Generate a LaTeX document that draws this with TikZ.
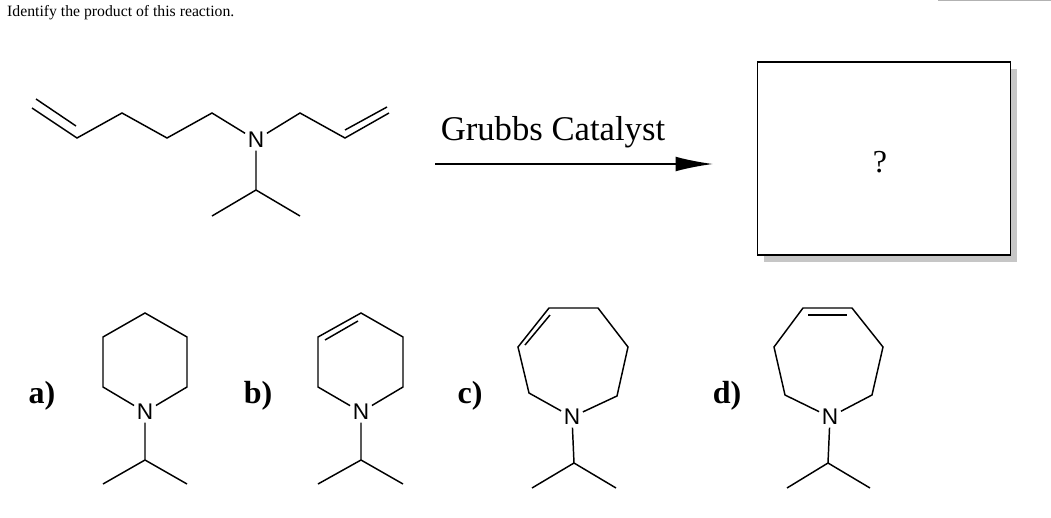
\documentclass[tikz,border=0pt]{standalone}
\usepackage{fontspec}
\setmainfont{Liberation Serif}
\newfontfamily\nfont{Liberation Sans}
\usetikzlibrary{arrows.meta}
\begin{document}
\begin{tikzpicture}[x=0.75pt,y=-0.75pt,line width=1.1pt,
  atom/.style={font=\nfont\fontsize{17}{17}\selectfont,inner sep=1.5pt},
  lbl/.style={font=\bfseries\fontsize{24}{24}\selectfont,anchor=center},
  bond/.style={line width=1.1pt}]
\useasboundingbox (0,0) rectangle (1051,518);
\draw[gray!60,line width=1.2pt] (938,0.5) -- (1051,0.5);
\node[anchor=west,font=\fontsize{11.8}{13}\selectfont] (q) at (2,13) {Identify the product of this reaction.};
% starting material
\coordinate (c1) at (32,108); \coordinate (c2) at (77,138); \coordinate (c3) at (122,113);
\coordinate (c4) at (167,138); \coordinate (c5) at (212,113);
\node[atom] (n) at (256,140) {N};
\coordinate (c6) at (300,113); \coordinate (c7) at (345,138); \coordinate (c8) at (389,113);
\coordinate (i1) at (256,190); \coordinate (i2) at (212,216); \coordinate (i3) at (300,216);
\draw[bond] (c1)--(c2)--(c3)--(c4)--(c5)--(n)--(c6)--(c7)--(c8);
\coordinate (e1) at (36,99); \coordinate (e2) at (76,126);
\coordinate (e3) at (345,130); \coordinate (e4) at (387,107);
\draw[bond] (e1)--(e2) (e3)--(e4);
\draw[bond] (n)--(i1) (i2)--(i1)--(i3);
% arrow
\coordinate (as) at (435,164); \coordinate (ae) at (713,164);
\draw[line width=1.2pt,-{Latex[length=28pt,width=11pt]}] (as) -- (ae);
\node[font=\fontsize{26}{26}\selectfont] (g) at (553,132) {Grubbs Catalyst};
% box
\fill[gray!45] (764,69) rectangle (1017,262);
\node[draw,fill=white,line width=1.2pt,minimum width=253*0.75pt,minimum height=193*0.75pt,inner sep=0pt] (box) at (884,158.5) {};
\node[font=\fontsize{24}{24}\selectfont] (qm) at (880,162) {?};
% labels
\node[lbl] (la) at (42,396) {a)};
\node[lbl] (lb) at (258,396) {b)};
\node[lbl] (lc) at (470,396) {c)};
\node[lbl] (ld) at (727,396) {d)};
% a
\node[atom] (na) at (145,412) {N};
\coordinate (a1) at (103,387); \coordinate (a2) at (103,337); \coordinate (a3) at (145,313);
\coordinate (a4) at (187,337); \coordinate (a5) at (187,387);
\draw[bond] (na)--(a1)--(a2)--(a3)--(a4)--(a5)--(na);
\coordinate (ai) at (145,460); \coordinate (aj) at (103,484); \coordinate (ak) at (187,484);
\draw[bond] (na)--(ai) (aj)--(ai)--(ak);
% b
\node[atom] (nb) at (361,412) {N};
\coordinate (b1) at (318,387); \coordinate (b2) at (318,337); \coordinate (b3) at (361,313);
\coordinate (b4) at (403,337); \coordinate (b5) at (403,387);
\draw[bond] (nb)--(b1)--(b2)--(b3)--(b4)--(b5)--(nb);
\coordinate (bd1) at (325,340); \coordinate (bd2) at (358,321);
\draw[bond] (bd1)--(bd2);
\coordinate (bi) at (361,460); \coordinate (bj) at (318,484); \coordinate (bk) at (403,484);
\draw[bond] (nb)--(bi) (bj)--(bi)--(bk);
% c
\node[atom] (nc) at (572,417) {N};
\coordinate (c1a) at (529,393); \coordinate (c2a) at (518,347); \coordinate (c3a) at (549,308);
\coordinate (c4a) at (598,308); \coordinate (c5a) at (628,347); \coordinate (c6a) at (617,396);
\draw[bond] (nc)--(c1a)--(c2a)--(c3a)--(c4a)--(c5a)--(c6a)--(nc);
\coordinate (cd1) at (525,345); \coordinate (cd2) at (550,315);
\draw[bond] (cd1)--(cd2);
\coordinate (ci) at (574,463); \coordinate (cj) at (532,488); \coordinate (ck) at (616,488);
\draw[bond] (nc)--(ci) (cj)--(ci)--(ck);
% d
\node[atom] (nd) at (830,417) {N};
\coordinate (d1) at (785,395); \coordinate (d2) at (774,347); \coordinate (d3) at (803,308);
\coordinate (d4) at (852,308); \coordinate (d5) at (883,347); \coordinate (d6) at (872,395);
\draw[bond] (nd)--(d1)--(d2)--(d3)--(d4)--(d5)--(d6)--(nd);
\coordinate (dd1) at (808,315); \coordinate (dd2) at (847,315);
\draw[bond] (dd1)--(dd2);
\coordinate (di) at (828,463); \coordinate (dj) at (787,488); \coordinate (dk) at (870,488);
\draw[bond] (nd)--(di) (dj)--(di)--(dk);
\end{tikzpicture}
\end{document}
